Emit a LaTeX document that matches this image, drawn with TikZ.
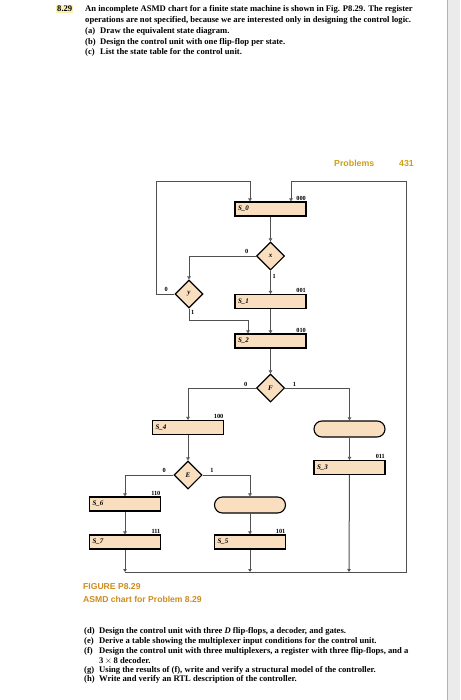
\documentclass[tikz,border=0pt]{standalone}
\usepackage{fontspec}
\setmainfont{Liberation Serif}
\newfontfamily\capfont{Liberation Sans}
\usetikzlibrary{shapes.geometric, shapes.misc, arrows.meta, positioning}

\definecolor{boxfill}{RGB}{249,223,192}
\definecolor{wireclr}{RGB}{80,80,80}
\definecolor{pagegold}{RGB}{205,160,20}
\definecolor{capgold}{RGB}{205,140,30}
\definecolor{numhl}{RGB}{250,240,170}

\begin{document}
\begin{tikzpicture}[
    x=1pt, y=-1pt,
    state/.style={rectangle, draw, line width=1.1pt, fill=boxfill, minimum height=14pt, text width=65pt, inner xsep=3pt, inner ysep=0pt, align=left, font=\fontsize{7}{7}\selectfont\bfseries\itshape},
    decision/.style={diamond, draw, line width=1.1pt, fill=boxfill, minimum width=28pt, minimum height=28pt, inner sep=0pt, font=\fontsize{7}{7}\selectfont\bfseries\itshape},
    condout/.style={rounded rectangle, draw, line width=1.1pt, fill=boxfill, minimum width=71pt, minimum height=16pt, inner sep=0pt},
    code/.style={font=\fontsize{6.3}{6}\selectfont\bfseries, inner sep=0.5pt},
    branch/.style={font=\fontsize{6.3}{6}\selectfont\bfseries, inner sep=0.5pt},
    wire/.style={draw=wireclr, line width=1pt},
    arrow/.style={wire, -{Triangle[open, length=3pt, width=3.5pt]}},
    hdr/.style={anchor=west, inner sep=0pt, font=\fontsize{8.6}{9}\selectfont\bfseries},
    qtext/.style={anchor=west, inner sep=0pt, font=\fontsize{8.6}{9}\selectfont\bfseries},
    captext/.style={anchor=west, inner sep=0pt, text=capgold, font=\capfont\fontsize{8.6}{9}\selectfont\bfseries},
    pagehead/.style={anchor=west, inner sep=0pt, text=pagegold, font=\capfont\fontsize{8.8}{9}\selectfont\bfseries}
]
\useasboundingbox (0,0) rectangle (460,700);

% Page edge
\fill[black!8] (447,0) rectangle (460,700);
\draw[black!30, line width=1pt] (447,0) -- (447,700);

% Problem statement
\node[hdr, fill=numhl, inner sep=1pt] (pnum) at (56,9) {8.29};
\node[hdr] (hline1) at (85,9) {An incomplete ASMD chart for a finite state machine is shown in Fig. P8.29. The register};
\node[hdr] (hline2) at (85,20) {operations are not specified, because we are interested only in designing the control logic.};
\node[hdr] (qa) at (85,31) {(a)};
\node[hdr] (qatext) at (100,31) {Draw the equivalent state diagram.};
\node[hdr] (qb) at (85,42) {(b)};
\node[hdr] (qbtext) at (100,42) {Design the control unit with one flip-flop per state.};
\node[hdr] (qc) at (85,52) {(c)};
\node[hdr] (qctext) at (100,52) {List the state table for the control unit.};

% Running head
\node[pagehead] (probs) at (334,163) {Problems};
\node[pagehead] (pageno) at (399,163) {431};

% States
\node[state] (s0) at (270.5,209) {S\_0};
\node[state] (s1) at (270.5,301.5) {S\_1};
\node[state] (s2) at (270.5,341) {S\_2};
\node[state] (s4) at (188,427.5) {S\_4};
\node[state] (s3) at (349.5,467.5) {S\_3};
\node[state] (s6) at (125,504) {S\_6};
\node[state] (s7) at (125,542) {S\_7};
\node[state] (s5) at (250,542) {S\_5};

% Conditional outputs
\node[condout] (cout1) at (349.5,429) {};
\node[condout] (cout2) at (250,505) {};

% Decisions
\node[decision] (dx) at (270.5,256) {x};
\node[decision] (dy) at (189,294) {y};
\node[decision] (dF) at (270.5,388) {F};
\node[decision] (dE) at (188,475) {E};

% State codes
\node[code, above left=0.5pt and 0pt of s0.north east] {000};
\node[code, above left=0.5pt and 0pt of s1.north east] {001};
\node[code, above left=0.5pt and 0pt of s2.north east] {010};
\node[code, above left=0.5pt and 0pt of s4.north east] {100};
\node[code, above left=0.5pt and 0pt of s3.north east] {011};
\node[code, above left=0.5pt and 0pt of s6.north east] {110};
\node[code, above left=0.5pt and 0pt of s7.north east] {111};
\node[code, above left=0.5pt and 0pt of s5.north east] {101};

% Branch labels
\node[branch, above left=2pt and 7pt of dx.west] {0};
\node[branch, below right=3pt and 1.5pt of dx.south] {1};
\node[branch, above left=2pt and 6pt of dy.west] {0};
\node[branch, below right=1pt and 1.5pt of dy.south] {1};
\node[branch, above left=1pt and 8pt of dF.west] {0};
\node[branch, above right=1pt and 7pt of dF.east] {1};
\node[branch, above left=2pt and 7pt of dE.west] {0};
\node[branch, above right=2pt and 7pt of dE.east] {1};

% Corners of the return paths
\coordinate (lcorner) at (156,182);
\coordinate (rcorner) at (406,182);
\coordinate (ybend) at (189,320);
\coordinate (bleft) at (125,572);
\coordinate (bmid) at (250,572);
\coordinate (bright) at (349,572);
\coordinate (bcorner) at (406,572);

% Arrows
\draw[arrow] (s0) -- (dx);
\draw[arrow] (dx.west) -| (dy.north);
\draw[arrow] (dx) -- (s1);
\draw[arrow] (s1) -- (s2);
\draw[arrow] (dy.west) -| (lcorner) -| ([xshift=-20.5pt]s0.north);
\draw[arrow] (dy.south) -- (ybend) -| ([xshift=-22.5pt]s2.north);
\draw[arrow] (s2) -- (dF);
\draw[arrow] (dF.west) -| (s4.north);
\draw[arrow] (dF.east) -| (cout1.north);
\draw[arrow] (cout1) -- (s3);
\draw[arrow] (s4) -- (dE);
\draw[arrow] (dE.west) -| (s6.north);
\draw[arrow] (dE.east) -| (cout2.north);
\draw[arrow] (cout2) -- (s5);
\draw[arrow] (s6) -- (s7);
\draw[arrow] (s7) -- (bleft);
\draw[arrow] (s5) -- (bmid);
\draw[arrow] (s3) -- (bright);
\draw[arrow] (bleft) -- (bcorner) -- (rcorner) -| ([xshift=20.5pt]s0.north);

% Caption
\node[captext] (figno) at (83,587) {FIGURE P8.29};
\node[captext] (figcap) at (83,599) {ASMD chart for Problem 8.29};

% Further parts
\node[qtext] (qd) at (84,631) {(d)};
\node[qtext] (qdtext) at (99,631) {Design the control unit with three \textit{D} flip-flops, a decoder, and gates.};
\node[qtext] (qe) at (84,641) {(e)};
\node[qtext] (qetext) at (99,641) {Derive a table showing the multiplexer input conditions for the control unit.};
\node[qtext] (qf) at (84,651.5) {(f)};
\node[qtext] (qftext) at (99,651.5) {Design the control unit with three multiplexers, a register with three flip-flops, and a};
\node[qtext] (qfmore) at (99,660.5) {3\,$\times$\,8 decoder.};
\node[qtext] (qg) at (84,670) {(g)};
\node[qtext] (qgtext) at (99,670) {Using the results of (f), write and verify a structural model of the controller.};
\node[qtext] (qh) at (84,679) {(h)};
\node[qtext] (qhtext) at (99,679) {Write and verify an RTL description of the controller.};

\end{tikzpicture}
\end{document}
